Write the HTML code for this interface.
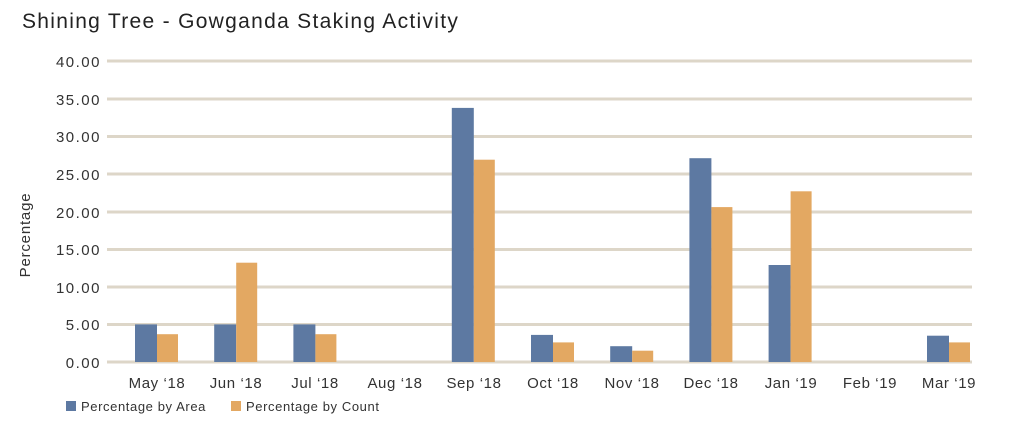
<!DOCTYPE html>
<html><head><meta charset="utf-8"><style>
html,body{margin:0;padding:0;background:#fff;}
svg{display:block;font-family:"Liberation Sans",sans-serif;}
</style></head><body>
<svg width="1024" height="427" viewBox="0 0 1024 427" xmlns="http://www.w3.org/2000/svg">
<text x="22" y="28" font-size="21" fill="#222" letter-spacing="1.3">Shining Tree - Gowganda Staking Activity</text>
<g stroke="#ddd6c8" stroke-width="3">
<line x1="107" x2="972" y1="61" y2="61"/>
<line x1="107" x2="972" y1="99" y2="99"/>
<line x1="107" x2="972" y1="136.5" y2="136.5"/>
<line x1="107" x2="972" y1="174" y2="174"/>
<line x1="107" x2="972" y1="212" y2="212"/>
<line x1="107" x2="972" y1="249.5" y2="249.5"/>
<line x1="107" x2="972" y1="287" y2="287"/>
<line x1="107" x2="972" y1="324.5" y2="324.5"/>
<line x1="107" x2="972" y1="362" y2="362"/>
</g>
<g font-size="15" fill="#333" text-anchor="end" letter-spacing="1.5">
<text x="101" y="67">40.00</text>
<text x="101" y="105">35.00</text>
<text x="101" y="142">30.00</text>
<text x="101" y="180">25.00</text>
<text x="101" y="218">20.00</text>
<text x="101" y="255">15.00</text>
<text x="101" y="293">10.00</text>
<text x="101" y="330">5.00</text>
<text x="101" y="368">0.00</text>
</g>
<text transform="translate(30,235) rotate(-90)" font-size="15" fill="#333" text-anchor="middle" letter-spacing="0.8">Percentage</text>
<g font-size="15" fill="#333" text-anchor="middle" letter-spacing="0.6">
<text x="157" y="388">May ‘18</text>
<text x="236" y="388">Jun ‘18</text>
<text x="315" y="388">Jul ‘18</text>
<text x="395" y="388">Aug ‘18</text>
<text x="474" y="388">Sep ‘18</text>
<text x="553" y="388">Oct ‘18</text>
<text x="632" y="388">Nov ‘18</text>
<text x="711" y="388">Dec ‘18</text>
<text x="791" y="388">Jan ‘19</text>
<text x="870" y="388">Feb ‘19</text>
<text x="949" y="388">Mar ‘19</text>
</g>
<rect x="66" y="401" width="10" height="10" fill="#5d79a2"/>
<text x="81" y="411" font-size="13" fill="#333" letter-spacing="0.6">Percentage by Area</text>
<rect x="231" y="401" width="10" height="10" fill="#e3a862"/>
<text x="246" y="411" font-size="13" fill="#333" letter-spacing="0.6">Percentage by Count</text>
<g>
<rect x="135" y="324.4" width="22" height="37.6" fill="#5d79a2"/><rect x="157" y="334.2" width="21" height="27.8" fill="#e3a862"/>
<rect x="214.2" y="324.4" width="22" height="37.6" fill="#5d79a2"/><rect x="236.2" y="262.7" width="21" height="99.3" fill="#e3a862"/>
<rect x="293.4" y="324.4" width="22" height="37.6" fill="#5d79a2"/><rect x="315.4" y="334.2" width="21" height="27.8" fill="#e3a862"/>
<rect x="451.8" y="107.9" width="22" height="254.1" fill="#5d79a2"/><rect x="473.8" y="159.7" width="21" height="202.3" fill="#e3a862"/>
<rect x="531" y="334.9" width="22" height="27.1" fill="#5d79a2"/><rect x="553" y="342.4" width="21" height="19.6" fill="#e3a862"/>
<rect x="610.2" y="346.2" width="22" height="15.8" fill="#5d79a2"/><rect x="632.2" y="350.7" width="21" height="11.3" fill="#e3a862"/>
<rect x="689.4" y="158.2" width="22" height="203.8" fill="#5d79a2"/><rect x="711.4" y="207.1" width="21" height="154.9" fill="#e3a862"/>
<rect x="768.6" y="265" width="22" height="97" fill="#5d79a2"/><rect x="790.6" y="191.3" width="21" height="170.7" fill="#e3a862"/>
<rect x="927" y="335.7" width="22" height="26.3" fill="#5d79a2"/><rect x="949" y="342.4" width="21" height="19.6" fill="#e3a862"/>
</g>
</svg>
</body></html>
